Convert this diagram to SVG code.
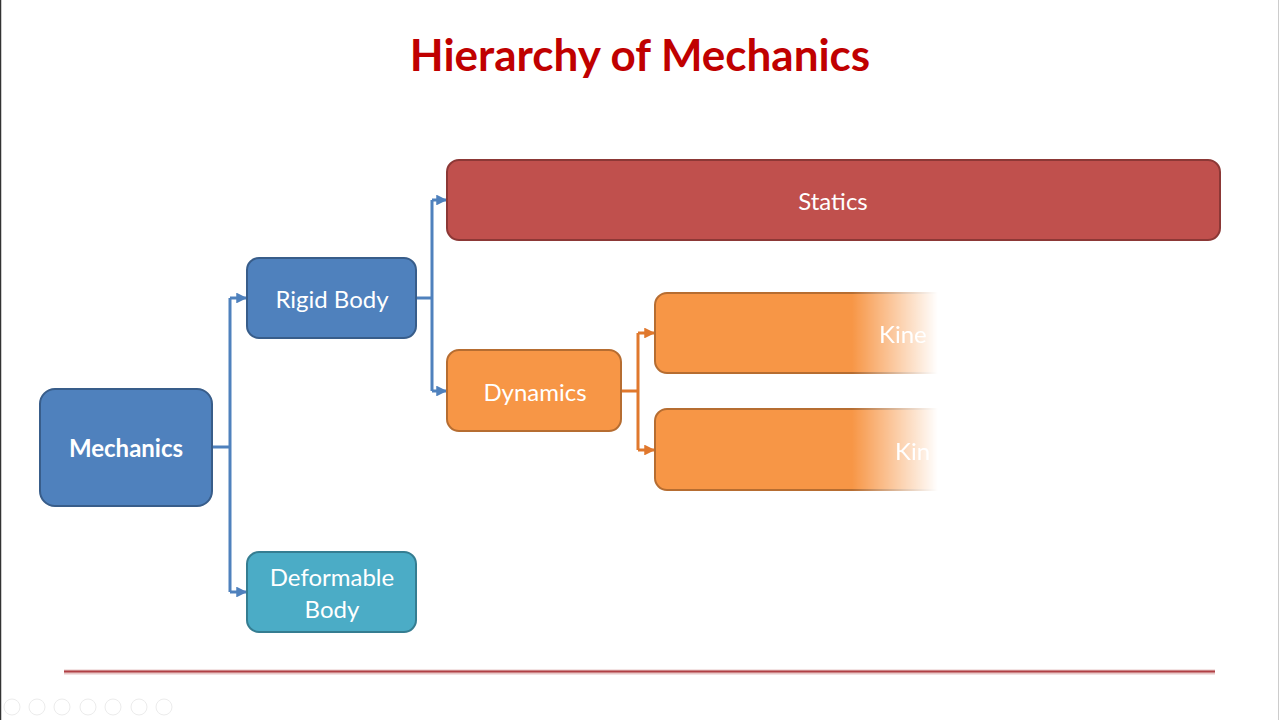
<svg xmlns="http://www.w3.org/2000/svg" width="1280" height="720" viewBox="0 0 1280 720">
<defs>
<style>
.t{font-family:Lato,"Open Sans","Liberation Sans",sans-serif;fill:#fff;text-anchor:middle;dominant-baseline:central;font-size:24px}
.b{stroke-width:2}
.blue{fill:#4F81BD;stroke:#385D8A}
.teal{fill:#4BACC6;stroke:#357D91}
.red{fill:#C0504D;stroke:#8C3836}
.orange{fill:#F79646;stroke:#B66D31}
.cb{fill:none;stroke:#4F81BD;stroke-width:3}
.co{fill:none;stroke:#E0782D;stroke-width:3}
</style>
<marker id="ab" viewBox="0 0 10 10" refX="9" refY="5" markerWidth="3.6" markerHeight="3.6" orient="auto" markerUnits="strokeWidth"><path d="M0,0 L10,5 L0,10 z" fill="#4F81BD"/></marker>
<marker id="ao" viewBox="0 0 10 10" refX="9" refY="5" markerWidth="3.6" markerHeight="3.6" orient="auto" markerUnits="strokeWidth"><path d="M0,0 L10,5 L0,10 z" fill="#E0782D"/></marker>
<linearGradient id="fade" gradientUnits="userSpaceOnUse" x1="852" y1="0" x2="938" y2="0">
<stop offset="0" stop-color="#fff" stop-opacity="1"/>
<stop offset="1" stop-color="#fff" stop-opacity="0"/>
</linearGradient>
<mask id="wipe" maskUnits="userSpaceOnUse" x="640" y="280" width="640" height="220">
<rect x="640" y="280" width="640" height="220" fill="url(#fade)"/>
</mask>
</defs>
<rect width="1280" height="720" fill="#fff"/>
<line x1="0.5" y1="0" x2="0.5" y2="720" stroke="#333" stroke-width="1.5"/>
<line x1="1278.5" y1="0" x2="1278.5" y2="720" stroke="#ccc" stroke-width="1"/>

<text x="640" y="54" font-family="Lato,'Open Sans','Liberation Sans',sans-serif" font-weight="bold" font-size="44" fill="#C00000" text-anchor="middle" dominant-baseline="central">Hierarchy of Mechanics</text>

<g id="connectors">
<path class="cb" d="M212,447 H230 M230,298 V592" />
<path class="cb" d="M230,298 H246" marker-end="url(#ab)"/>
<path class="cb" d="M230,592 H246" marker-end="url(#ab)"/>
<path class="cb" d="M416,298 H432 M432,200 V391"/>
<path class="cb" d="M432,200 H446" marker-end="url(#ab)"/>
<path class="cb" d="M432,391 H446" marker-end="url(#ab)"/>
<path class="co" d="M621,391 H638 M638,333 V450"/>
<path class="co" d="M638,333 H654" marker-end="url(#ao)"/>
<path class="co" d="M638,450 H654" marker-end="url(#ao)"/>
</g>

<g id="mechanics"><rect class="blue b" x="40" y="389" width="172" height="117" rx="15"/><text class="t" x="126" y="447" font-weight="bold">Mechanics</text></g>
<g id="rigid-body"><rect class="blue b" x="247" y="258" width="169" height="80" rx="12"/><text class="t" x="332" y="298">Rigid Body</text></g>
<g id="deformable-body"><rect class="teal b" x="247" y="552" width="169" height="80" rx="12"/><text class="t" x="332" y="576">Deformable</text><text class="t" x="332" y="608">Body</text></g>
<g id="statics"><rect class="red b" x="447" y="160" width="773" height="80" rx="12"/><text class="t" x="833" y="200">Statics</text></g>
<g id="dynamics"><rect class="orange b" x="447" y="350" width="174" height="81" rx="12"/><text class="t" x="535" y="391">Dynamics</text></g>
<g id="kinematics" mask="url(#wipe)"><rect class="orange b" x="655" y="293" width="565" height="80" rx="12"/><text class="t" x="879" y="333" style="text-anchor:start">Kine</text></g>
<g id="kinetics" mask="url(#wipe)"><rect class="orange b" x="655" y="409" width="565" height="81" rx="12"/><text class="t" x="895" y="450" style="text-anchor:start">Kin</text></g>

<line x1="64" y1="672" x2="1215" y2="672" stroke="#E8C8C8" stroke-width="5"/>
<line x1="64" y1="671.5" x2="1215" y2="671.5" stroke="#B04045" stroke-width="2"/>

<g fill="none" stroke="#ececec" stroke-width="1">
<circle cx="12" cy="707" r="8"/><circle cx="37" cy="707" r="8"/><circle cx="62" cy="707" r="8"/><circle cx="88" cy="707" r="8"/><circle cx="113" cy="707" r="8"/><circle cx="139" cy="707" r="8"/><circle cx="164" cy="707" r="8"/>
</g>
</svg>
